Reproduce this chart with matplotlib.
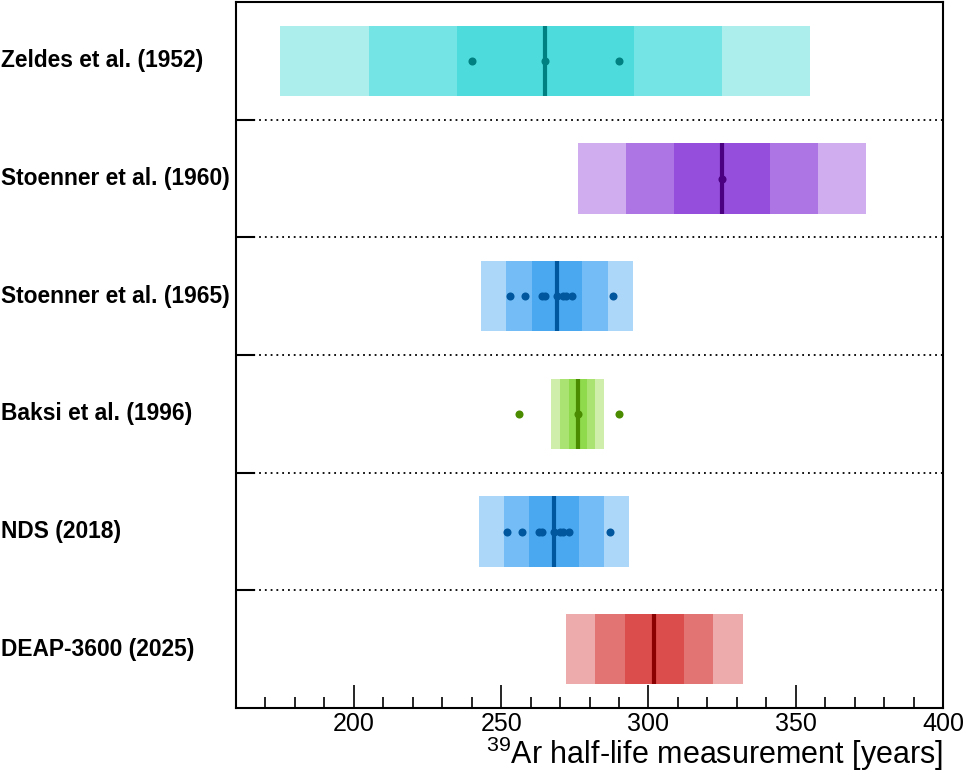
import matplotlib
matplotlib.use("Agg")
import matplotlib.pyplot as plt
import matplotlib.transforms as mtransforms

plt.rcParams['font.family'] = ['Liberation Sans', 'DejaVu Sans']
plt.rcParams['mathtext.fontset'] = 'custom'
plt.rcParams['mathtext.rm'] = 'Liberation Sans'
plt.rcParams['mathtext.it'] = 'Liberation Sans:italic'
plt.rcParams['mathtext.bf'] = 'Liberation Sans:bold'

# ---- data ----
labels = ["Zeldes et al. (1952)", "Stoenner et al. (1960)", "Stoenner et al. (1965)",
          "Baksi et al. (1996)", "NDS (2018)", "DEAP-3600 (2025)"]
centers = [265, 325, 269, 276, 268, 302]
sigmas = [30, 16.3, 8.6, 3.0, 8.5, 10.0]
points_zeldes = [240, 265, 290]
points_st1960 = [325]
points_st1965 = [253, 258, 264, 265, 269, 271, 272, 274, 288]
points_baksi = [256, 276, 290]
points_nds = [252, 257, 263, 264, 268, 270, 271, 273, 287]
points_deap = []
points = [points_zeldes, points_st1960, points_st1965, points_baksi, points_nds, points_deap]

# colours: (3 sigma, 2 sigma, 1 sigma, line/dots)
palettes = [
    ("#ACEEEC", "#75E4E4", "#4DDBDB", "#008080"),
    ("#CFADEE", "#AD75E4", "#944EDB", "#4B0082"),
    ("#ADD7F8", "#74BCF5", "#4AA8F1", "#00579E"),
    ("#CFEDAB", "#ABE373", "#8FD94D", "#4B8B00"),
    ("#ADD7F8", "#74BCF5", "#4AA8F1", "#00579E"),
    ("#EDABAB", "#E37474", "#DB4D4D", "#8B0000"),
]
xticks_major = [200, 250, 300, 350, 400]

fig = plt.figure(figsize=(9.65, 7.75), dpi=100)
ax = fig.add_axes([236/965, 1-708/775, (943-236)/965, (708-2)/775])

n = len(labels)
box_h = 0.6
for i in range(n):
    y = i + 0.5
    c, s = centers[i], sigmas[i]
    pal = palettes[i]
    for k, col in zip([3, 2, 1], pal[:3]):
        ax.barh(y, 2*k*s, left=c - k*s, height=box_h, color=col, edgecolor='none', zorder=2)
    ax.vlines(c, y - box_h/2, y + box_h/2, color=pal[3], lw=3, zorder=3)
    if points[i]:
        ax.plot(points[i], [y]*len(points[i]), 'o', color=pal[3], ms=5.8, mec='none', zorder=4)

for b in range(1, n):
    ax.axhline(b, color='black', ls=(0, (1, 2.2)), lw=1.3, zorder=1)

ax.set_xlim(160, 400)
ax.set_ylim(n, 0)
ax.set_xticks(xticks_major)
ax.set_xticks(range(170, 400, 10), minor=True)
ax.set_yticks(range(1, n))
ax.set_yticklabels([])
ax.tick_params(axis='x', which='major', direction='in', length=16.5, width=1.2,
               labelsize=18, pad=3, top=False)
ax.tick_params(axis='x', which='minor', direction='in', length=8, width=1.2, top=False)
ax.tick_params(axis='y', which='major', direction='in', length=14, width=1.5, right=False)
for sp in ax.spines.values():
    sp.set_linewidth(1.5)

ax.set_xlabel(r"$^{39}$Ar half-life measurement [years]", fontsize=22, loc='right', labelpad=-1)

trans = mtransforms.blended_transform_factory(fig.transFigure, ax.transData)
for i, lab in enumerate(labels):
    ax.text(0.001, i + 0.5, lab, transform=trans, ha='left', va='center',
            fontsize=16.4, fontweight='bold', clip_on=False)

fig.savefig("out.png", dpi=100)
